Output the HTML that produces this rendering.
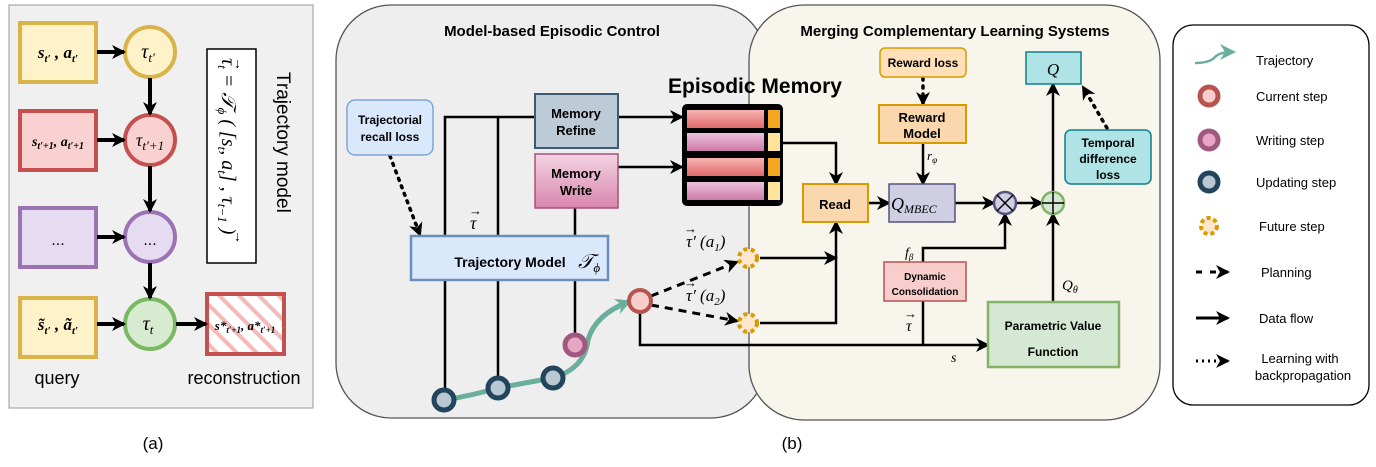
<!DOCTYPE html>
<html><head><meta charset="utf-8"><style>
html,body{margin:0;padding:0;background:#fff;}
svg{display:block;}
text{font-family:"Liberation Sans",sans-serif;}
.b{font-weight:bold;}
.m{font-family:"Liberation Serif",serif;font-style:italic;}
</style></head><body>
<svg width="1376" height="467" viewBox="0 0 1376 467" xmlns="http://www.w3.org/2000/svg">
<defs>
<marker id="ar" markerWidth="14" markerHeight="14" refX="12" refY="7" orient="auto" markerUnits="userSpaceOnUse"><path d="M0,0 L14,7 L0,14 L4,7 z" fill="#000"/></marker>
<marker id="art" markerWidth="16" markerHeight="16" refX="12" refY="8" orient="auto" markerUnits="userSpaceOnUse"><path d="M0,0 L16,8 L0,16 L5,8 z" fill="#6aae9c"/></marker>
<linearGradient id="pk" x1="0" y1="0" x2="0" y2="1"><stop offset="0" stop-color="#f3d3e3"/><stop offset="1" stop-color="#d986ad"/></linearGradient>
<linearGradient id="rr" x1="0" y1="0" x2="0" y2="1"><stop offset="0" stop-color="#f7b3b3"/><stop offset="1" stop-color="#e06a6a"/></linearGradient>
<linearGradient id="pr" x1="0" y1="0" x2="0" y2="1"><stop offset="0" stop-color="#edc2dc"/><stop offset="1" stop-color="#cc7aa8"/></linearGradient>
<pattern id="hatch" width="14" height="14" patternUnits="userSpaceOnUse" patternTransform="rotate(-45)"><rect width="14" height="14" fill="#fff"/><rect width="4" height="14" fill="#f4b9b9"/></pattern>
</defs>

<!-- Panel (a) -->
<rect x="9" y="5" width="304" height="403" fill="#f0f0f0" stroke="#999" stroke-width="1"/>
<g stroke-width="4">
<rect x="20" y="23" width="76" height="59" fill="#fff2c8" stroke="#d9b44a"/>
<rect x="20" y="111" width="76" height="59" fill="#f9d1d1" stroke="#c45050"/>
<rect x="20" y="208" width="76" height="59" fill="#e6dcf1" stroke="#9b73b3"/>
<rect x="20" y="298" width="76" height="59" fill="#fff2c8" stroke="#d9b44a"/>
<rect x="207" y="294" width="77" height="60" fill="url(#hatch)" stroke="#c45050"/>
<circle cx="150" cy="52" r="25" fill="#fff2c8" stroke="#d9b44a"/>
<circle cx="150" cy="140" r="25" fill="#f9d1d1" stroke="#c45050"/>
<circle cx="150" cy="237" r="25" fill="#e6dcf1" stroke="#9b73b3"/>
<circle cx="150" cy="324" r="25" fill="#d6ebcf" stroke="#7ab862"/>
</g>
<g stroke="#000" stroke-width="4" marker-end="url(#ar)">
<line x1="97" y1="52" x2="124" y2="52"/><line x1="97" y1="140" x2="124" y2="140"/>
<line x1="97" y1="237" x2="124" y2="237"/><line x1="97" y1="324" x2="124" y2="324"/>
<line x1="150" y1="78" x2="150" y2="114"/><line x1="150" y1="166" x2="150" y2="211"/>
<line x1="150" y1="263" x2="150" y2="298"/><line x1="176" y1="324" x2="206" y2="324"/>
</g>
<text class="m b" x="58" y="58" font-size="17" text-anchor="middle">s<tspan font-size="11" dy="4">t′</tspan><tspan dy="-4"> , a</tspan><tspan font-size="11" dy="4">t′</tspan></text>
<text class="m b" x="58" y="146" font-size="14" text-anchor="middle">s<tspan font-size="10" dy="3">t′+1</tspan><tspan dy="-3">, a</tspan><tspan font-size="10" dy="3">t′+1</tspan></text>
<text x="58" y="245" font-size="16" text-anchor="middle">...</text>
<text class="m b" x="58" y="330" font-size="17" text-anchor="middle">s̃<tspan font-size="11" dy="4">t′</tspan><tspan dy="-4"> , ã</tspan><tspan font-size="11" dy="4">t′</tspan></text>
<text class="m" x="148" y="58" font-size="20" text-anchor="middle">τ<tspan font-size="13" dy="4">t′</tspan></text>
<text class="m" x="150" y="146" font-size="18" text-anchor="middle">τ<tspan font-size="13" dy="4">t′+1</tspan></text>
<text x="150" y="245" font-size="16" text-anchor="middle">...</text>
<text class="m" x="148" y="330" font-size="20" text-anchor="middle">τ<tspan font-size="13" dy="4">t</tspan></text>
<text class="m b" x="245" y="330" font-size="13" text-anchor="middle">s*<tspan font-size="9" dy="3">t′+1</tspan><tspan dy="-3">, a*</tspan><tspan font-size="9" dy="3">t′+1</tspan></text>
<rect x="207" y="49" width="49" height="214" fill="#fff" stroke="#000" stroke-width="1.5"/>
<g transform="translate(222,58) rotate(90)">
<text class="m" x="0" y="0" font-size="20">τ<tspan font-size="13" dy="4">t</tspan><tspan dy="-4"> = 𝒯</tspan><tspan font-size="13" dy="4">ϕ</tspan><tspan dy="-4"> ( [s</tspan><tspan font-size="13" dy="4">t</tspan><tspan dy="-4">, a</tspan><tspan font-size="13" dy="4">t</tspan><tspan dy="-4">] , τ</tspan><tspan font-size="13" dy="4">t−1</tspan><tspan dy="-4"> )</tspan></text>
<text x="-1" y="-13" font-size="14">→</text>
<text x="172" y="-13" font-size="14">→</text>
</g>
<text transform="translate(277,72) rotate(90)" font-size="19">Trajectory model</text>
<text x="57" y="384" font-size="18" text-anchor="middle">query</text>
<text x="244" y="384" font-size="18" text-anchor="middle">reconstruction</text>
<text x="153" y="449" font-size="17" text-anchor="middle">(a)</text>

<!-- Panel (b) backgrounds -->
<rect x="336" y="5" width="430" height="413" rx="55" fill="#eeeeee" stroke="#555" stroke-width="1.3"/>
<rect x="749" y="5" width="411" height="415" rx="55" fill="#f8f5ec" stroke="#555" stroke-width="1.3"/>
<text class="b" x="552" y="36" font-size="15" text-anchor="middle">Model-based Episodic Control</text>
<text class="b" x="955" y="36" font-size="15" text-anchor="middle">Merging Complementary Learning Systems</text>

<!-- lines left -->
<g stroke="#000" stroke-width="2.5" fill="none">
<polyline points="445,400 445,117 535,117"/>
<line x1="498" y1="117" x2="498" y2="388"/>
<line x1="575" y1="208" x2="575" y2="345"/>
</g>
<g stroke="#000" stroke-width="2.5" fill="none" marker-end="url(#ar)">
<line x1="618" y1="117" x2="682" y2="117"/>
<line x1="618" y1="167" x2="682" y2="167"/>
<polyline points="783,143 836,143 836,184"/>
<polyline points="760,258 836,258"/>
<polyline points="760,323 836,323 836,222"/>
<polyline points="640,312 640,345 988,345"/>
<line x1="868" y1="203" x2="889" y2="203"/>
<line x1="955" y1="203" x2="994" y2="203"/>
<line x1="1016" y1="203" x2="1042" y2="203"/>
<line x1="923" y1="143" x2="923" y2="184"/>
<polyline points="923,262 923,248 1005,248 1005,214"/>
<line x1="1053" y1="302" x2="1053" y2="214"/>
<line x1="1053" y1="192" x2="1053" y2="84"/>
</g>
<line x1="923" y1="301" x2="923" y2="345" stroke="#000" stroke-width="2.5"/>
<g stroke="#000" stroke-width="3" fill="none" stroke-dasharray="8,6" marker-end="url(#ar)">
<line x1="651" y1="296" x2="737" y2="262"/>
<line x1="651" y1="305" x2="737" y2="321"/>
</g>
<g stroke="#000" stroke-width="3.5" fill="none" stroke-dasharray="2,6" stroke-linecap="round" marker-end="url(#ar)">
<line x1="390" y1="156" x2="420" y2="235"/>
<line x1="923" y1="78" x2="923" y2="104"/>
<line x1="1107" y1="128" x2="1083" y2="87"/>
</g>

<!-- trajectory curve -->
<path d="M444,400 Q470,396 498,388 Q530,382 553,378 Q585,368 588,340 Q595,315 628,302" stroke="#6aae9c" stroke-width="5" fill="none" marker-end="url(#art)"/>

<!-- boxes -->
<rect x="347" y="100" width="86" height="55" rx="8" fill="#dae8fc" stroke="#7ea6d6" stroke-width="1.5"/>
<text class="b" x="390" y="124" font-size="12" text-anchor="middle">Trajectorial</text>
<text class="b" x="390" y="141" font-size="12" text-anchor="middle">recall loss</text>
<rect x="535" y="94" width="83" height="54" fill="#bccbd6" stroke="#3d5a73" stroke-width="2"/>
<text class="b" x="576" y="118" font-size="13" text-anchor="middle">Memory</text>
<text class="b" x="576" y="135" font-size="13" text-anchor="middle">Refine</text>
<rect x="535" y="154" width="83" height="54" fill="url(#pk)" stroke="#a8507c" stroke-width="1.5"/>
<text class="b" x="576" y="178" font-size="13" text-anchor="middle">Memory</text>
<text class="b" x="576" y="195" font-size="13" text-anchor="middle">Write</text>
<rect x="411" y="236" width="197" height="44" fill="#dae8fc" stroke="#6c8ebf" stroke-width="2.5"/>
<text class="b" x="510" y="267" font-size="14" text-anchor="middle">Trajectory Model</text>
<text class="m" x="578" y="268" font-size="20">𝒯<tspan font-size="13" dy="4">ϕ</tspan></text>
<text class="m" x="470" y="229" font-size="18">τ</text><text x="469" y="215" font-size="13">→</text>

<!-- episodic memory -->
<text class="b" x="755" y="93" font-size="21" text-anchor="middle">Episodic Memory</text>
<rect x="682" y="104" width="101" height="102" rx="5" fill="#000"/>
<rect x="687" y="110" width="77" height="18" fill="url(#rr)"/><rect x="768" y="110" width="12" height="18" fill="#f5a623"/>
<rect x="687" y="133" width="77" height="18" fill="url(#pr)"/><rect x="768" y="133" width="12" height="18" fill="#fde49a"/>
<rect x="687" y="158" width="77" height="18" fill="url(#rr)"/><rect x="768" y="158" width="12" height="18" fill="#f5a623"/>
<rect x="687" y="182" width="77" height="18" fill="url(#pr)"/><rect x="768" y="182" width="12" height="18" fill="#fde49a"/>

<!-- step nodes -->
<g stroke="#23445d" stroke-width="5" fill="#bac8d3">
<circle cx="444" cy="400" r="10"/><circle cx="498" cy="388" r="10"/><circle cx="553" cy="378" r="10"/>
</g>
<circle cx="575" cy="345" r="10" fill="#e8a6c6" stroke="#a0587f" stroke-width="5"/>
<circle cx="640" cy="301" r="11" fill="#f8cecc" stroke="#b85450" stroke-width="4"/>
<g fill="#ffe6cc" stroke="#d79b00" stroke-width="4" stroke-dasharray="4,3.5">
<circle cx="748" cy="258" r="9"/><circle cx="748" cy="323" r="9"/>
</g>
<text class="m" x="686" y="247" font-size="17">τ′ (a<tspan font-size="11" dy="4">1</tspan><tspan dy="-4">)</tspan></text>
<text x="684" y="233" font-size="13">→</text>
<text class="m" x="686" y="301" font-size="17">τ′ (a<tspan font-size="11" dy="4">2</tspan><tspan dy="-4">)</tspan></text>
<text x="684" y="287" font-size="13">→</text>

<!-- right side boxes -->
<rect x="880" y="48" width="86" height="29" rx="5" fill="#ffe0b8" stroke="#d79b00" stroke-width="1.5"/>
<text class="b" x="923" y="67" font-size="12" text-anchor="middle">Reward loss</text>
<rect x="879" y="105" width="87" height="38" fill="#fad7ac" stroke="#d79b00" stroke-width="2"/>
<text class="b" x="922" y="122" font-size="13" text-anchor="middle">Reward</text>
<text class="b" x="922" y="138" font-size="13" text-anchor="middle">Model</text>
<text class="m" x="927" y="160" font-size="13">r<tspan font-size="9" dy="3">φ</tspan></text>
<rect x="803" y="184" width="65" height="38" fill="#fad7ac" stroke="#d79b00" stroke-width="2"/>
<text class="b" x="835" y="209" font-size="13" text-anchor="middle">Read</text>
<rect x="889" y="184" width="66" height="38" fill="#d0cee2" stroke="#56517e" stroke-width="1.5"/>
<text class="m" x="891" y="210" font-size="18">Q<tspan font-size="12" dy="3">MBEC</tspan></text>
<circle cx="1005" cy="203" r="11" fill="#d0cee2" stroke="#56517e" stroke-width="2.5"/>
<path d="M997,195 L1013,211 M1013,195 L997,211" stroke="#000" stroke-width="1.5"/>
<circle cx="1053" cy="203" r="11" fill="#d5e8d4" stroke="#82b366" stroke-width="2.5"/>
<path d="M1042,203 L1064,203 M1053,192 L1053,214" stroke="#000" stroke-width="1.5"/>
<rect x="1026" y="52" width="55" height="32" fill="#b0e3e6" stroke="#0e8088" stroke-width="1.5"/>
<text class="m" x="1053" y="75" font-size="17" text-anchor="middle">Q</text>
<rect x="1065" y="130" width="86" height="54" rx="6" fill="#b0e3e6" stroke="#0e8088" stroke-width="1.5"/>
<text class="b" x="1108" y="147" font-size="12" text-anchor="middle">Temporal</text>
<text class="b" x="1108" y="163" font-size="12" text-anchor="middle">difference</text>
<text class="b" x="1108" y="179" font-size="12" text-anchor="middle">loss</text>
<text class="m" x="905" y="257" font-size="14">f<tspan font-size="9" dy="3">β</tspan></text>
<rect x="884" y="262" width="82" height="39" fill="#f8cecc" stroke="#b85450" stroke-width="1.5"/>
<text class="b" x="925" y="280" font-size="10" text-anchor="middle">Dynamic</text>
<text class="b" x="925" y="295" font-size="10" text-anchor="middle">Consolidation</text>
<text class="m" x="906" y="331" font-size="16">τ</text><text x="904" y="318" font-size="13">→</text>
<text class="m" x="951" y="362" font-size="14">s</text>
<text class="m" x="1062" y="290" font-size="15">Q<tspan font-size="10" dy="3">θ</tspan></text>
<rect x="988" y="302" width="131" height="65" fill="#d5e8d4" stroke="#82b366" stroke-width="2.5"/>
<text class="b" x="1053" y="330" font-size="12" text-anchor="middle">Parametric Value</text>
<text class="b" x="1053" y="356" font-size="12" text-anchor="middle">Function</text>
<text x="792" y="449" font-size="17" text-anchor="middle">(b)</text>

<!-- legend -->
<rect x="1173" y="25" width="196" height="380" rx="20" fill="#fff" stroke="#000" stroke-width="1.3"/>
<path d="M1195,63 Q1210,63 1215,57 Q1220,52 1232,52" stroke="#6aae9c" stroke-width="2.5" fill="none" marker-end="url(#art)"/>
<text x="1256" y="65" font-size="13">Trajectory</text>
<circle cx="1209" cy="96" r="9" fill="#f8cecc" stroke="#b85450" stroke-width="5"/>
<text x="1256" y="101" font-size="13">Current step</text>
<circle cx="1209" cy="140" r="9" fill="#e8a6c6" stroke="#a0587f" stroke-width="5"/>
<text x="1256" y="145" font-size="13">Writing step</text>
<circle cx="1209" cy="182" r="9" fill="#bac8d3" stroke="#23445d" stroke-width="5"/>
<text x="1256" y="187" font-size="13">Updating step</text>
<circle cx="1209" cy="226" r="8" fill="#ffe6cc" stroke="#d79b00" stroke-width="4" stroke-dasharray="4,3"/>
<text x="1259" y="231" font-size="13">Future step</text>
<line x1="1196" y1="272" x2="1228" y2="272" stroke="#000" stroke-width="3" stroke-dasharray="6,8" marker-end="url(#ar)"/>
<text x="1261" y="277" font-size="13">Planning</text>
<line x1="1196" y1="318" x2="1228" y2="318" stroke="#000" stroke-width="3" marker-end="url(#ar)"/>
<text x="1259" y="323" font-size="13">Data flow</text>
<line x1="1196" y1="361" x2="1228" y2="361" stroke="#000" stroke-width="3" stroke-dasharray="2,4" marker-end="url(#ar)"/>
<text x="1300" y="363" font-size="13" text-anchor="middle">Learning with</text>
<text x="1303" y="380" font-size="13" text-anchor="middle">backpropagation</text>
</svg>
</body></html>
